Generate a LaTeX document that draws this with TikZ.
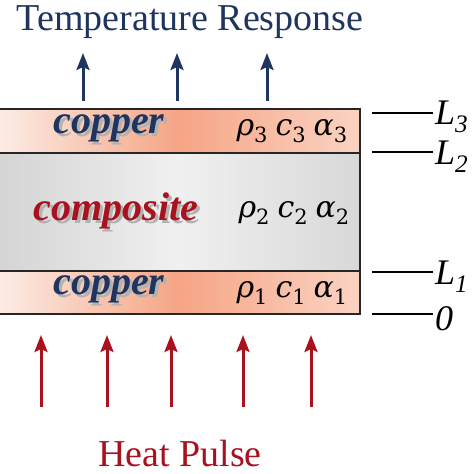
\documentclass[tikz,border=0pt]{standalone}
\usepackage{fontspec}
\setmainfont{Liberation Serif}
\newfontfamily\grkfont{DejaVu Serif}
\usetikzlibrary{arrows.meta}
\definecolor{navy}{HTML}{1F3560}
\definecolor{heatred}{HTML}{A8121E}
\definecolor{cuL}{HTML}{FCEDE6}
\definecolor{cuM}{HTML}{F5A585}
\definecolor{cuR}{HTML}{FBD3C3}
\definecolor{grL}{HTML}{D4D4D4}
\definecolor{grM}{HTML}{F0F0F0}
\definecolor{grR}{HTML}{D8D8D8}
\newcommand{\prp}[3]{\textit{#1}\textsubscript{#3}\hspace{0.25em}\textit{#2}\textsubscript{#3}\hspace{0.25em}\textit{α}\textsubscript{#3}}
\tikzset{
  uparrowB/.style={draw=navy,line width=3pt,-{Stealth[length=17pt,width=13pt,inset=3pt]}},
  uparrowR/.style={draw=heatred,line width=3pt,-{Stealth[length=17pt,width=13pt,inset=3pt]}},
  tick/.style={draw=black,line width=2.2pt},
  mat/.style={font=\fontsize{40}{40}\selectfont\bfseries\itshape},
  props/.style={font=\fontsize{30}{30}\grkfont, anchor=east, inner sep=0pt},
  lab/.style={font=\fontsize{36}{36}\selectfont\itshape, anchor=west, inner sep=0pt},
  ttl/.style={font=\fontsize{38}{38}\selectfont, anchor=base},
}
\begin{document}
\begin{tikzpicture}[x=1pt,y=-1pt]
\useasboundingbox (0,0) rectangle (474,474);
% layers
\shade[left color=cuL,right color=cuR,middle color=cuM] (-3,109) rectangle (360,153);
\shade[left color=grL,right color=grR,middle color=grM] (-3,153) rectangle (360,271);
\shade[left color=cuL,right color=cuR,middle color=cuM] (-3,271) rectangle (360,314);
\draw[line width=2pt,black!85] (-3,109) rectangle (360,314);
\draw[line width=2pt,black!85] (-3,153) -- (360,153);
\draw[line width=2pt,black!85] (-3,271) -- (360,271);
% material names with shadow
\node[mat,text=black!30] at (112,131) {copper};
\node[mat,text=navy] (cu3) at (109,128) {copper};
\node[mat,text=black!30] at (119,214) {composite};
\node[mat,text=heatred] (comp) at (116,211) {composite};
\node[mat,text=black!30] at (112,292) {copper};
\node[mat,text=navy] (cu1) at (109,289) {copper};
% properties
\node[props] (p3) at (348,131) {\prp{ρ}{c}{3}};
\node[props] (p2) at (350,213) {\prp{ρ}{c}{2}};
\node[props] (p1) at (348,293) {\prp{ρ}{c}{1}};
% titles
\node[ttl,text=navy] (resp) at (190,30) {Temperature Response};
\node[ttl,text=heatred] (pulse) at (180,466) {Heat Pulse};
% top arrows
\foreach \x/\n in {83/a,177/b,267/c}{
  \coordinate (t\n s) at (\x,101);
  \coordinate (t\n e) at (\x,53);
  \draw[uparrowB] (t\n s) -- (t\n e);
}
% bottom arrows
\foreach \x/\n in {41/a,107/b,171/c,243/d,311/e}{
  \coordinate (b\n s) at (\x,407);
  \coordinate (b\n e) at (\x,335);
  \draw[uparrowR] (b\n s) -- (b\n e);
}
% ticks and labels
\foreach \y/\n in {113/l3,152/l2,272/l1,314/l0}{
  \coordinate (\n s) at (372,\y);
  \coordinate (\n e) at (433,\y);
  \draw[tick] (\n s) -- (\n e);
}
\node[lab] (L3) at (435,117) {L\textsubscript{3}};
\node[lab] (L2) at (435,157) {L\textsubscript{2}};
\node[lab] (L1) at (435,277) {L\textsubscript{1}};
\node[lab] (L0) at (435,319) {0};
\end{tikzpicture}
\end{document}
